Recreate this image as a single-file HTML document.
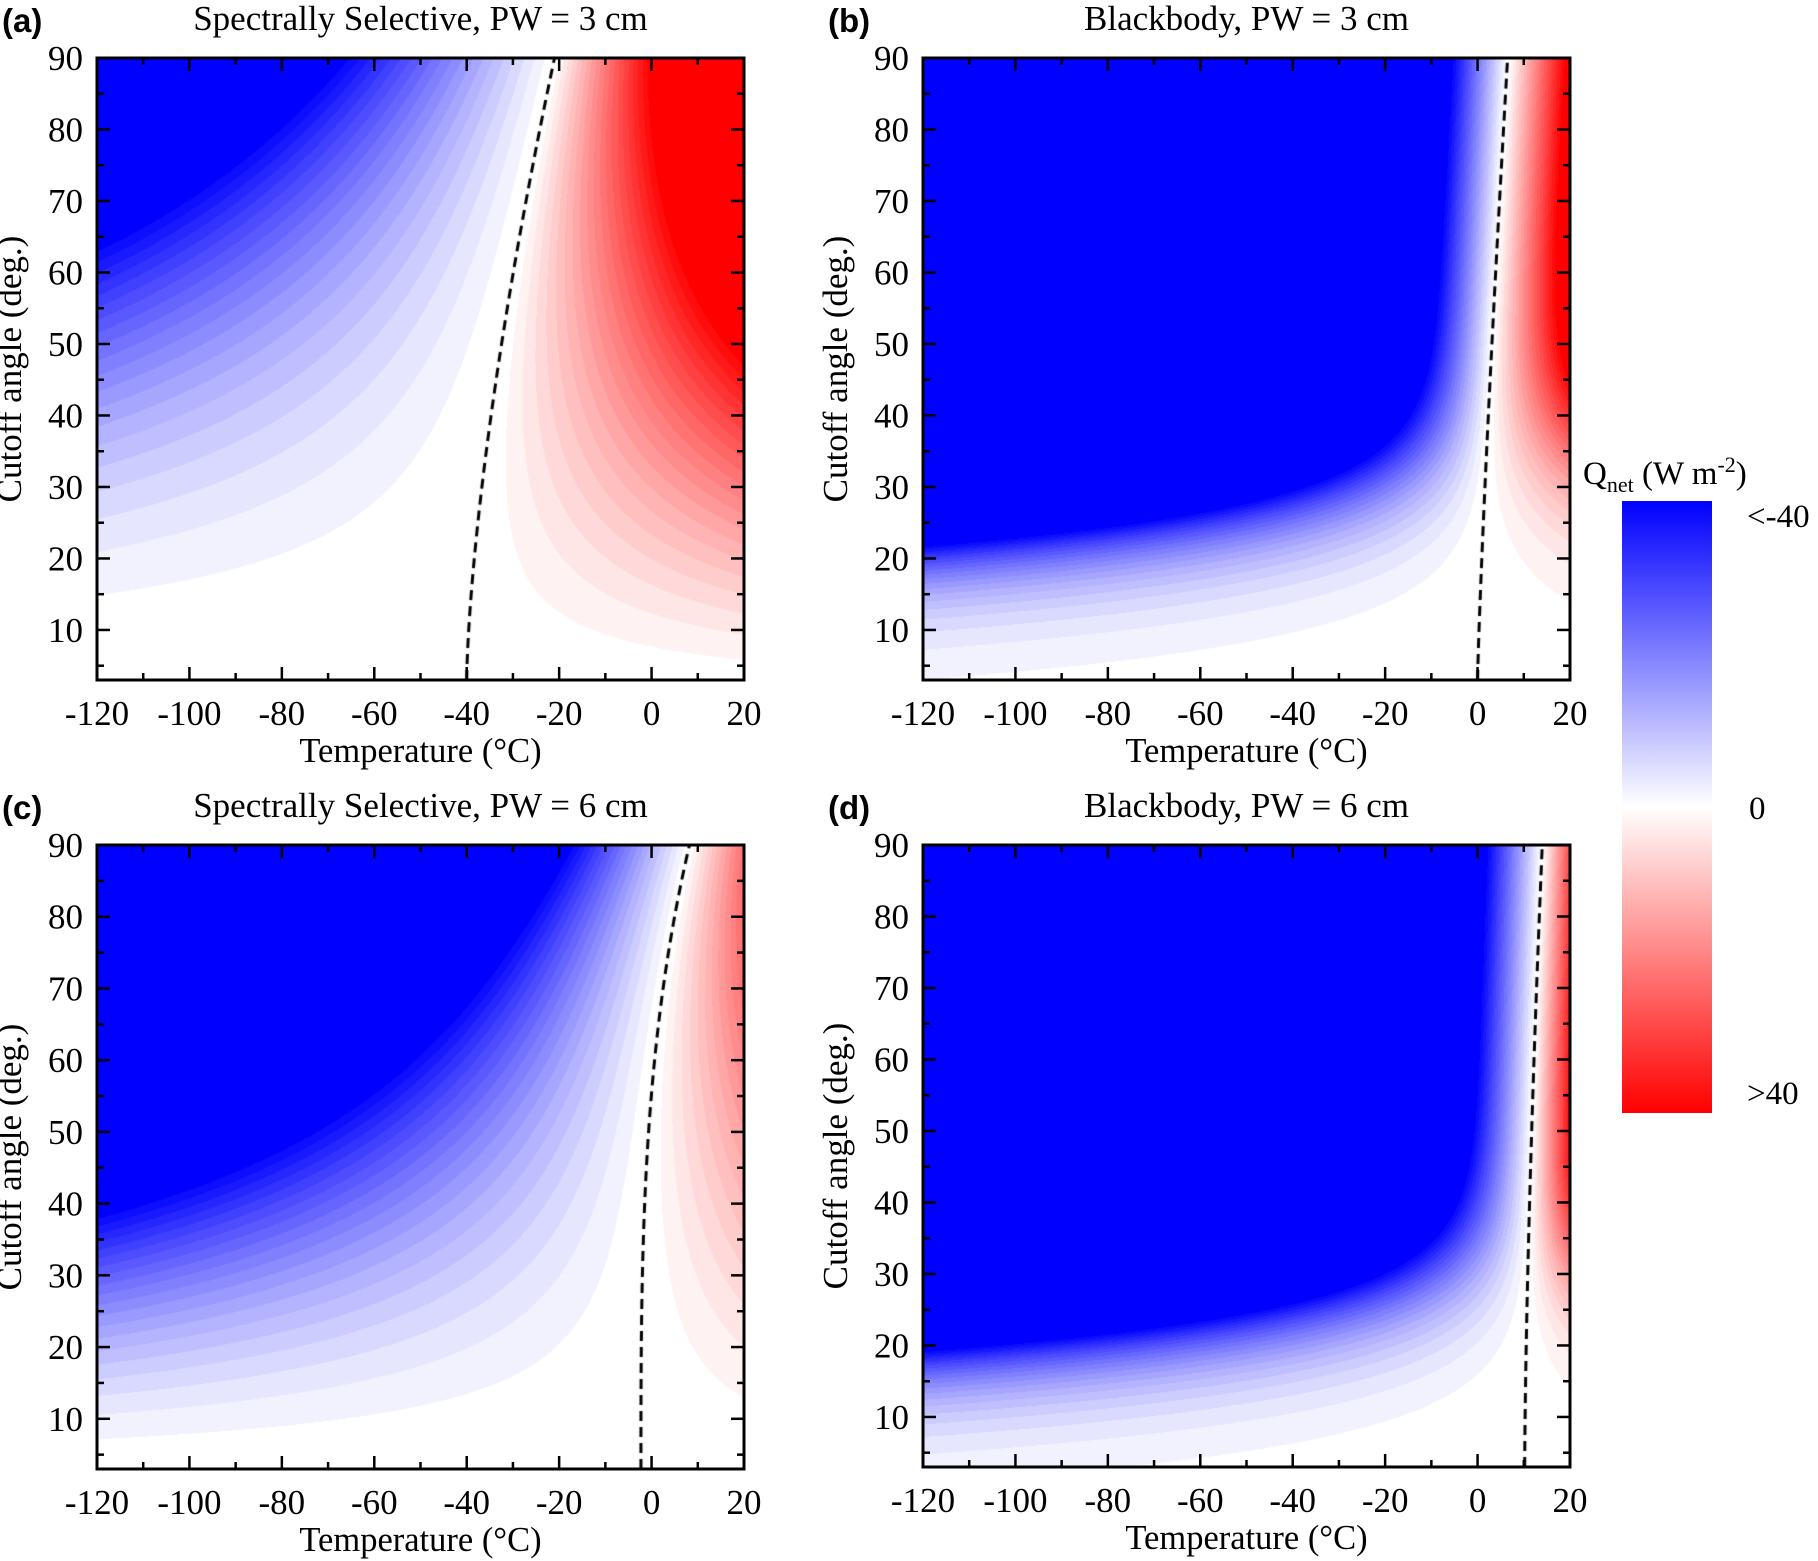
<!DOCTYPE html>
<html><head><meta charset="utf-8">
<style>
html,body{margin:0;padding:0;background:#fff;}
#wrap{position:relative;width:1818px;height:1561px;overflow:hidden;background:#fff;}
canvas{position:absolute;}
svg{position:absolute;left:0;top:0;}
</style></head>
<body><div id="wrap">
<canvas id="ca" style="left:97px;top:58px" width="647" height="622"></canvas>
<canvas id="cb" style="left:923px;top:58px" width="647" height="622"></canvas>
<canvas id="cc" style="left:97px;top:845px" width="647" height="624"></canvas>
<canvas id="cd" style="left:923px;top:845px" width="647" height="622"></canvas>
<svg id="ov" width="1818" height="1561" xmlns="http://www.w3.org/2000/svg">
<defs><linearGradient id="cbg" x1="0" y1="0" x2="0" y2="1">
<stop offset="0" stop-color="#0000ff"/><stop offset="0.5" stop-color="#ffffff"/><stop offset="1" stop-color="#ff0000"/></linearGradient></defs>
<rect x="1622" y="501" width="90" height="612" fill="url(#cbg)"/>
<g font-family="Liberation Serif, serif" font-size="33" fill="#000">
<text x="1583" y="484">Q<tspan font-size="22" dy="8">net</tspan><tspan dy="-8"> (W m</tspan><tspan font-size="22" dy="-12">-2</tspan><tspan dy="12">)</tspan></text>
<text x="1747" y="527">&lt;-40</text>
<text x="1749" y="819">0</text>
<text x="1747" y="1104">&gt;40</text>
</g>
<g id="axes"></g>
</svg>
</div>
<script>
function clamp(v,a,b){return Math.max(a,Math.min(b,v));}
var panels=[
 {id:'ca',x:97,y:58,w:647,h:622,
  T0:function(t){var u=(t-3)/87;return -40+19*Math.pow(u,1.5);},
  gb:function(t){return 0.9*Math.pow(t/90,2);},
  gr:function(t){return 2*Math.pow(t/90,1.5);}},
 {id:'cb',x:923,y:58,w:647,h:622,
  T0:function(t){var u=(t-3)/87;return 6.5*Math.pow(u,1.2);},
  gb:function(t){return 3.4/(1+Math.exp(-(t-35)/6));},
  gr:function(t){return 3.3/(1+Math.exp(-(t-38)/7));}},
 {id:'cc',x:97,y:845,w:647,h:624,
  T0:function(t){var u=(t-3)/87;return -2.3+10.5*Math.pow(u,3);},
  gb:function(t){return 1.6*Math.pow(t/90,1.8);},
  gr:function(t){return 2*Math.pow(t/90,1.6);}},
 {id:'cd',x:923,y:845,w:647,h:622,
  T0:function(t){var u=(t-3)/87;return 10.2+3.8*Math.pow(u,1.5);},
  gb:function(t){return 3.4/(1+Math.exp(-(t-33)/6));},
  gr:function(t){return 5/(1+Math.exp(-(t-33)/6));}}
];
panels.forEach(function(p){
 var c=document.getElementById(p.id),ctx=c.getContext('2d');
 var img=ctx.createImageData(p.w,p.h),d=img.data;
 for(var j=0;j<p.h;j++){
  var th=90-(j/p.h)*87, t0=p.T0(th), gb=p.gb(th), gr=p.gr(th);
  for(var i=0;i<p.w;i++){
   var T=-120+(i/p.w)*140, dT=T-t0;
   var Q=dT<0?gb*dT:gr*dT;
   Q=Math.trunc(Q/2)*2;
   var v=clamp(Q/40,-1,1),k=(j*p.w+i)*4;
   if(v<0){var a=Math.round(255*(1+v));d[k]=a;d[k+1]=a;d[k+2]=255;}
   else{var b=Math.round(255*(1-v));d[k]=255;d[k+1]=b;d[k+2]=b;}
   d[k+3]=255;
  }
 }
 ctx.putImageData(img,0,0);
 ctx.strokeStyle='#000';ctx.lineWidth=3;ctx.setLineDash([10,6]);
 ctx.beginPath();
 for(var th2=3;th2<=90;th2+=1){
  var X=(p.T0(th2)+120)/140*p.w, Y=(90-th2)/87*p.h;
  if(th2==3)ctx.moveTo(X,Y);else ctx.lineTo(X,Y);
 }
 ctx.stroke();
});
var NS='http://www.w3.org/2000/svg',g=document.getElementById('axes');
function el(n,a,txt){var e=document.createElementNS(NS,n);for(var k in a)e.setAttribute(k,a[k]);if(txt!==undefined)e.textContent=txt;g.appendChild(e);return e;}
var titles=['Spectrally Selective, PW = 3 cm','Blackbody, PW = 3 cm','Spectrally Selective, PW = 6 cm','Blackbody, PW = 6 cm'];
var letters=['(a)','(b)','(c)','(d)'];
panels.forEach(function(p,n){
 var X0=p.x,Y0=p.y,W=p.w,H=p.h;
 el('rect',{x:X0,y:Y0,width:W,height:H,fill:'none',stroke:'#000','stroke-width':3});
 for(var T=-120;T<=20;T+=10){
  var x=X0+(T+120)/140*W, L=(T%20==0)?13:7;
  el('line',{x1:x,y1:Y0+H,x2:x,y2:Y0+H-L,stroke:'#000','stroke-width':2.5});
  el('line',{x1:x,y1:Y0,x2:x,y2:Y0+L,stroke:'#000','stroke-width':2.5});
  if(T%20==0) el('text',{x:x,y:Y0+H+45,'text-anchor':'middle','font-family':'Liberation Serif, serif','font-size':35},String(T));
 }
 for(var th=5;th<=90;th+=5){
  var y=Y0+(90-th)/87*H, L=(th%10==0)?13:7;
  el('line',{x1:X0,y1:y,x2:X0+L,y2:y,stroke:'#000','stroke-width':2.5});
  el('line',{x1:X0+W,y1:y,x2:X0+W-L,y2:y,stroke:'#000','stroke-width':2.5});
  if(th%10==0) el('text',{x:X0-14,y:y+12,'text-anchor':'end','font-family':'Liberation Serif, serif','font-size':35},String(th));
 }
 el('text',{x:X0+W/2,y:Y0+H+82,'text-anchor':'middle','font-family':'Liberation Serif, serif','font-size':34.5},'Temperature (\u00B0C)');
 el('text',{x:X0+W/2,y:Y0-28,'text-anchor':'middle','font-family':'Liberation Serif, serif','font-size':35},titles[n]);
 el('text',{x:X0-76,y:Y0+H/2,'text-anchor':'middle','font-family':'Liberation Serif, serif','font-size':35,transform:'rotate(-90 '+(X0-76)+' '+(Y0+H/2)+')'},'Cutoff angle (deg.)');
 el('text',{x:X0-95,y:Y0-26,'font-family':'Liberation Sans, sans-serif','font-size':33,'font-weight':'bold'},letters[n]);
});
</script>
</body></html>
